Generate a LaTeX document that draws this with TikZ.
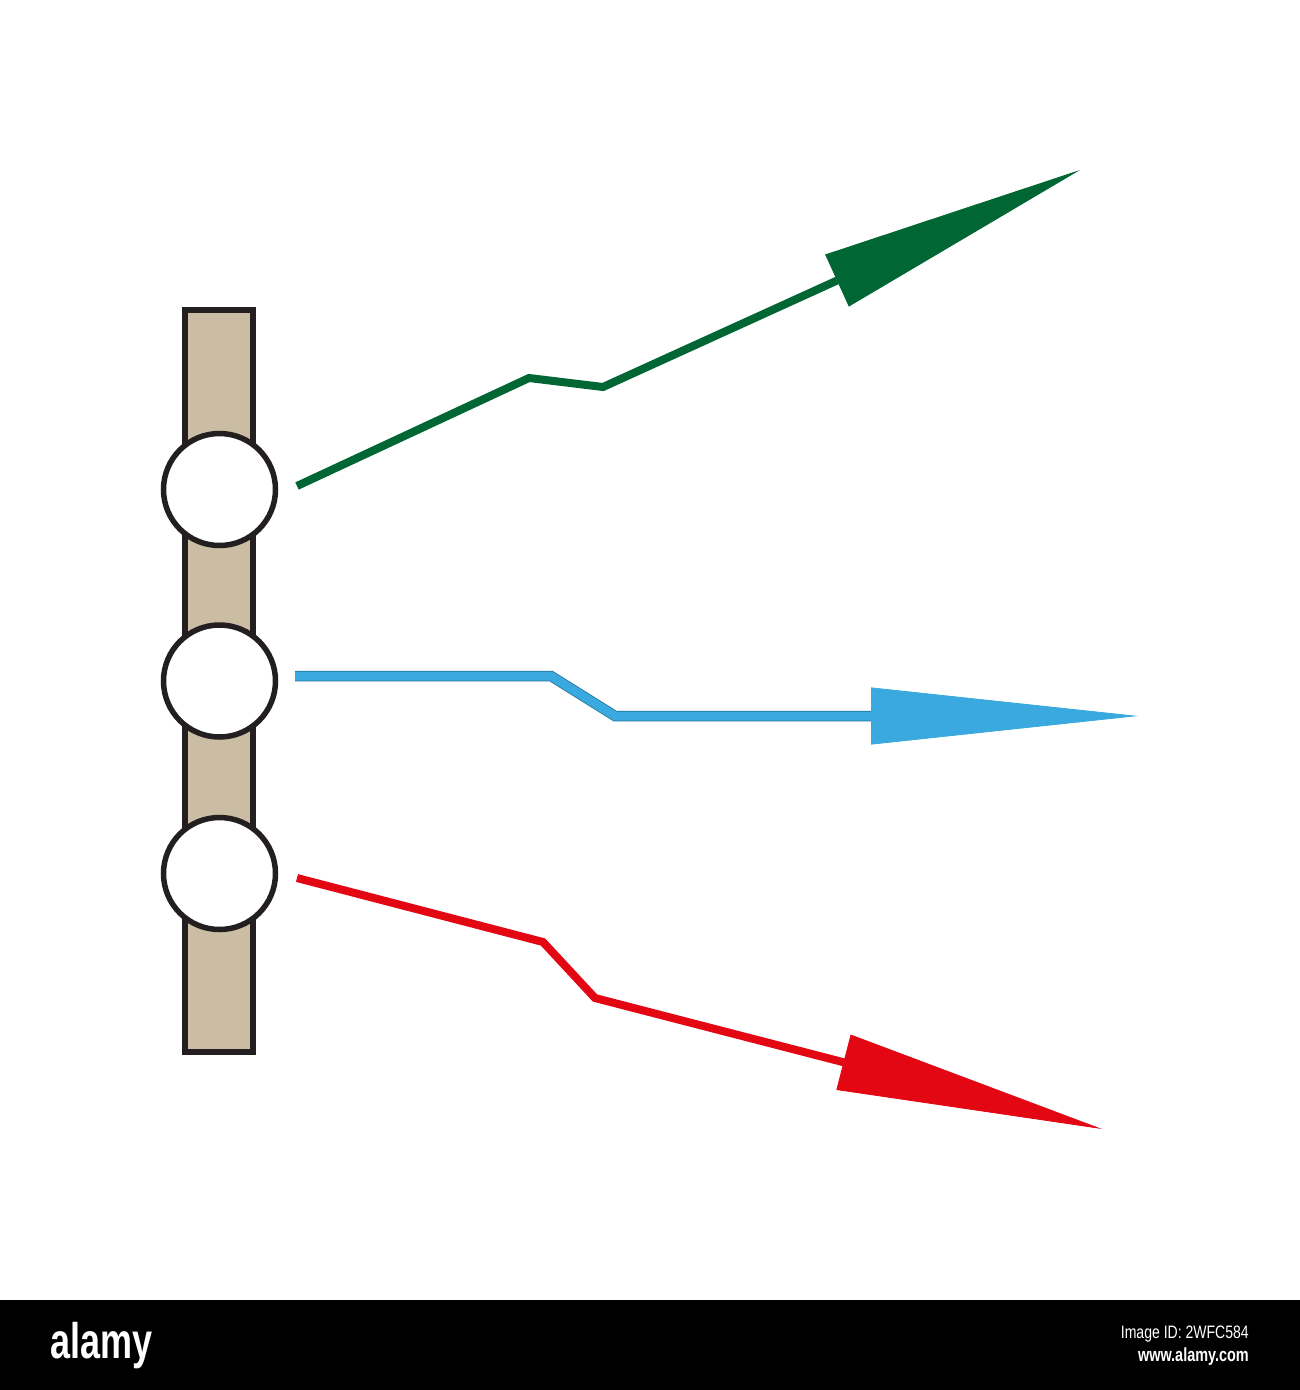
\documentclass[tikz,border=0pt]{standalone}
\usepackage{fontspec}
\setmainfont{Liberation Sans}
\usetikzlibrary{arrows.meta}

\begin{document}
\begin{tikzpicture}[x=1pt,y=1pt,yscale=-1,xscale=1,
		bead/.style={circle,draw={rgb,255:red,35;green,31;blue,32},line width=5.5pt,fill=white,minimum size=112pt,inner sep=0pt},
		ray/.style={line width=8pt,line join=miter,-{Triangle[length=267pt,width=57pt,line width=0.8pt]}}
	]
		\useasboundingbox (0,0) rectangle (1300,1390);
		
		% the rod
		\node [draw={rgb,255:red,35;green,31;blue,32},line width=5.5pt,fill={rgb,255:red,203;green,189;blue,164},minimum width=68pt,minimum height=742pt,inner sep=0pt] (rod) at (219,681) {};
		
		% three beads on the rod
		\node [bead] (top) at (219.5,489.5) {};
		\node [bead] (mid) at (219.5,681) {};
		\node [bead] (low) at (219.5,873.5) {};
		
		% green ray
		\coordinate (g0) at (297,486);
		\coordinate (g1) at (529,378);
		\coordinate (g2) at (603,387);
		\coordinate (gtip) at (1080,170);
		\draw [ray,color={rgb,255:red,0;green,102;blue,51}] (g0) -- (g1) -- (g2) -- (gtip);
		
		% blue ray
		\coordinate (b0) at (295,676);
		\coordinate (b1) at (551,676);
		\coordinate (b2) at (615,716);
		\coordinate (bend) at (872,716);
		\coordinate (btip) at (1138,716);
		\draw [line width=10.5pt,line join=miter,color={rgb,255:red,30;green,110;blue,150}] (b0) -- (b1) -- (b2) -- (bend);
		\draw [ray,line width=9pt,color={rgb,255:red,58;green,169;blue,224}] (b0) -- (b1) -- (b2) -- (btip);
		
		% red ray
		\coordinate (r0) at (297,878);
		\coordinate (r1) at (543,942);
		\coordinate (r2) at (595,998);
		\coordinate (rtip) at (1102,1129);
		\draw [ray,color={rgb,255:red,227;green,6;blue,19}] (r0) -- (r1) -- (r2) -- (rtip);
		
		% footer strip
		\fill [black] (0,1300) rectangle (1300,1390);
		\node [anchor=base west,inner sep=0pt,text=white,font=\bfseries\fontsize{50}{50}\selectfont] (brand) at (50,1358) {\scalebox{0.72}[1]{alamy}};
		\node [anchor=base east,inner sep=0pt,text=white,font=\fontsize{18}{18}\selectfont] (imgid) at (1249,1338) {\scalebox{0.78}[1]{Image ID: 2WFC584}};
		\node [anchor=base east,inner sep=0pt,text=white,font=\bfseries\fontsize{19}{19}\selectfont] (site) at (1249,1361) {\scalebox{0.76}[1]{www.alamy.com}};
		
		\end{tikzpicture}
\end{document}
